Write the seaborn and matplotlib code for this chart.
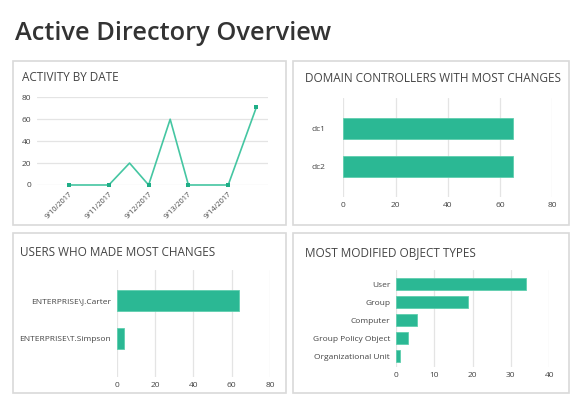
import pandas as pd
import matplotlib.pyplot as plt
import matplotlib.dates as mdates
from matplotlib.patches import Rectangle
from matplotlib.ticker import FuncFormatter
import seaborn as sns

# activity by date (timestamps of the line points)
activity_times = ['2017-09-10 00:00', '2017-09-11 00:00', '2017-09-11 12:30',
                  '2017-09-12 00:00', '2017-09-12 13:00', '2017-09-13 00:00',
                  '2017-09-14 00:00', '2017-09-14 17:00']
activity_counts = [0, 0, 20, 0, 60, 0, 0, 71]
activity_ticks = ['2017-09-10', '2017-09-11', '2017-09-12', '2017-09-13', '2017-09-14']

dc_names = ['dc1', 'dc2']
dc_changes = [65, 65]

user_names = ['ENTERPRISE\\J.Carter', 'ENTERPRISE\\T.Simpson']
user_changes = [64, 4]

object_types = ['User', 'Group', 'Computer', 'Group Policy Object', 'Organizational Unit']
object_changes = [34, 18.7, 5.5, 3.1, 1]

TEAL = '#2bb894'
LINE = '#45c6a2'
GRID = '#e4e4e4'
TXT = '#444444'

sns.set_theme(style='white')
plt.rcParams['font.family'] = ['Open Sans', 'DejaVu Sans']

fig = plt.figure(figsize=(5.8, 4.08), dpi=100)
W, H = 580.0, 408.0

def fx(px):
    return px / W

def fy(py):
    return 1 - py / H

# panel frames
for x0, y0, x1, y1 in [(12.7, 61, 286, 225), (293, 61, 569, 225),
                       (12.7, 233, 286, 393), (293, 233, 569, 393)]:
    fig.patches.append(Rectangle((fx(x0), fy(y1)), fx(x1) - fx(x0), fy(y0) - fy(y1),
                                 transform=fig.transFigure, facecolor='white',
                                 edgecolor='#d9d9d9', linewidth=1.2, zorder=-5))

fig.text(fx(15), fy(33), 'Active Directory Overview', fontsize=18.3, fontweight='semibold',
         color='#333333', va='center', ha='left')
fig.text(fx(21.5), fy(77.5), 'ACTIVITY BY DATE', fontsize=8.5, color=TXT, va='center')
fig.text(fx(305), fy(78), 'DOMAIN CONTROLLERS WITH MOST CHANGES', fontsize=8.5, color=TXT, va='center')
fig.text(fx(20.5), fy(253), 'USERS WHO MADE MOST CHANGES', fontsize=8.5, color=TXT, va='center')
fig.text(fx(305), fy(253), 'MOST MODIFIED OBJECT TYPES', fontsize=8.5, color=TXT, va='center')

def axes_px(left, top, right, bottom):
    return fig.add_axes([fx(left), fy(bottom), fx(right) - fx(left), fy(top) - fy(bottom)])

def clean(ax):
    for s in ax.spines.values():
        s.set_visible(False)
    ax.tick_params(length=0, labelsize=6.0, labelcolor=TXT, pad=4)
    ax.set_xlabel('')
    ax.set_ylabel('')
    ax.set_facecolor('none')

# line chart
ax1 = axes_px(36.7, 97.3, 268, 185)
act = pd.DataFrame({'time': pd.to_datetime(activity_times), 'count': activity_counts})
sns.lineplot(data=act, x='time', y='count', ax=ax1, color=LINE, linewidth=1.2,
             marker='s', markersize=3, markeredgewidth=0, markerfacecolor='#1fae87',
             markevery=[0, 1, 3, 5, 6, 7], clip_on=False)
ax1.set_xlim(pd.Timestamp('2017-09-09 04:30'), pd.Timestamp('2017-09-15 00:00'))
ax1.set_ylim(0, 80)
ax1.set_yticks([0, 20, 40, 60, 80])
ax1.set_xticks(pd.to_datetime(activity_ticks))
ax1.xaxis.set_major_formatter(FuncFormatter(
    lambda v, p: (lambda d: f'{d.month}/{d.day}/{d.year}')(mdates.num2date(v))))
ax1.yaxis.grid(True, color=GRID, linewidth=0.9)
ax1.set_axisbelow(True)
clean(ax1)
for lab in ax1.get_xticklabels():
    lab.set_rotation(45)
    lab.set_ha('right')
    lab.set_rotation_mode('anchor')
    lab.set_fontsize(5.4)

def hbar(ax, names, values, width, ylim, xmax, step):
    df = pd.DataFrame({'name': names, 'value': values})
    sns.barplot(data=df, x='value', y='name', ax=ax, color=TEAL, width=width,
                saturation=1, edgecolor='#5fcfae', linewidth=0.6)
    ax.set_ylim(*ylim)
    ax.set_xlim(0, xmax)
    ax.set_xticks(range(0, xmax + 1, step))
    ax.xaxis.grid(True, color=GRID, linewidth=0.9)
    ax.set_axisbelow(True)
    clean(ax)

ax2 = axes_px(343.3, 98.3, 552.3, 196.7)
hbar(ax2, dc_names, dc_changes, 0.55, (1.78, -0.8), 80, 20)
ax2.tick_params(axis='y', pad=13)

ax3 = axes_px(116.7, 270, 270, 376.7)
hbar(ax3, user_names, user_changes, 0.55, (1.99, -0.8), 80, 20)

ax4 = axes_px(395.7, 270, 549.3, 366.7)
hbar(ax4, object_types, object_changes, 0.67, (4.58, -0.79), 40, 10)

fig.savefig('out.png', dpi=100)
